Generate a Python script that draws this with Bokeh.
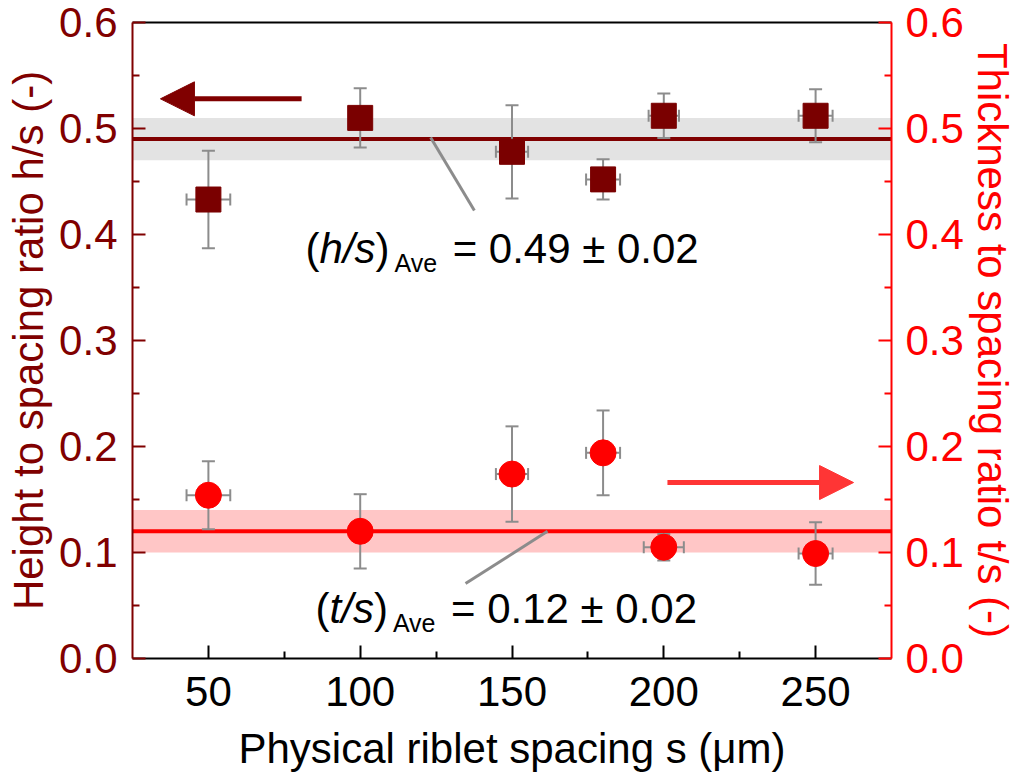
import math
from bokeh.plotting import figure
from bokeh.models import (Range1d, LinearAxis, FixedTicker, PrintfTickFormatter, Whisker,
                          TeeHead, ColumnDataSource, BoxAnnotation, Span, Arrow, NormalHead, Label)
from bokeh.embed import file_html
from bokeh.resources import INLINE

# ---------------- data ----------------
spacing = [50, 100, 150, 180, 200, 250]
hs = [0.433, 0.510, 0.478, 0.452, 0.512, 0.512]
hs_err = [0.046, 0.028, 0.044, 0.019, 0.021, 0.025]
hs_xerr = [7.2, 3.0, 5.3, 5.6, 5.0, 5.6]
ts = [0.154, 0.120, 0.174, 0.194, 0.105, 0.099]
ts_err = [0.032, 0.035, 0.045, 0.040, 0.0125, 0.0295]
ts_xerr = [7.2, 3.0, 5.3, 5.6, 6.6, 5.6]
hs_ave, hs_ave_err = 0.49, 0.02
ts_ave, ts_ave_err = 0.12, 0.02
x_ticks = [50, 100, 150, 200, 250]
x_minor = [75, 125, 175, 225]
y_ticks = [0.0, 0.1, 0.2, 0.3, 0.4, 0.5, 0.6]
y_minor = [0.05, 0.15, 0.25, 0.35, 0.45, 0.55]
x_title = "Physical riblet spacing s (\u03bcm)"
yl_title = "Height to spacing ratio h/s (-)"
yr_title = "Thickness to spacing ratio t/s (-)"

DARK = "#800000"
RED = "#ff0000"
GRAY = "#8c8c8c"
FONT = "Liberation Sans"

p = figure(width=1020, height=778, x_range=Range1d(25, 275), y_range=Range1d(0, 0.6),
           output_backend="svg", toolbar_location=None,
           min_border_left=132, min_border_right=129, min_border_top=22, min_border_bottom=120)
p.extra_y_ranges = {"r": Range1d(0, 0.6)}
p.xgrid.visible = False
p.ygrid.visible = False
p.outline_line_color = None
p.background_fill_color = "white"
p.border_fill_color = "white"

def style_axis(ax, color, ticks, minor, standoff, title, title_size, title_standoff):
    ax.ticker = FixedTicker(ticks=ticks, minor_ticks=minor)
    ax.axis_line_color = color
    ax.axis_line_width = 2
    ax.major_tick_line_color = color
    ax.minor_tick_line_color = color
    ax.major_tick_line_width = 2
    ax.minor_tick_line_width = 2
    ax.major_tick_in = 13
    ax.major_tick_out = 0
    ax.minor_tick_in = 7
    ax.minor_tick_out = 0
    ax.major_label_text_color = color
    ax.major_label_text_font = FONT
    ax.major_label_text_font_size = "42px"
    ax.major_label_standoff = standoff
    ax.axis_label = title
    ax.axis_label_text_color = color
    ax.axis_label_text_font = FONT
    ax.axis_label_text_font_size = f"{title_size}px"
    ax.axis_label_text_font_style = "normal"
    ax.axis_label_standoff = title_standoff

style_axis(p.xaxis[0], "black", x_ticks, x_minor, 18, x_title, 42, 16)
style_axis(p.yaxis[0], DARK, y_ticks, y_minor, 15, yl_title, 42, 4)
p.yaxis[0].formatter = PrintfTickFormatter(format="%.1f")

rax = LinearAxis(y_range_name="r")
style_axis(rax, RED, y_ticks, y_minor, 14, yr_title, 42, 2)
rax.formatter = PrintfTickFormatter(format="%.1f")
p.add_layout(rax, "right")

tax = LinearAxis(ticker=FixedTicker(ticks=[]), axis_line_color="black", axis_line_width=2,
                 major_label_text_font_size="0px", major_tick_line_color=None,
                 minor_tick_line_color=None)
p.add_layout(tax, "above")

# ---------------- bands and average lines ----------------
p.add_layout(BoxAnnotation(bottom=hs_ave - hs_ave_err, top=hs_ave + hs_ave_err,
                           fill_color="#e3e3e3", fill_alpha=1, line_color=None, level="underlay"))
p.add_layout(BoxAnnotation(bottom=ts_ave - ts_ave_err, top=ts_ave + ts_ave_err,
                           fill_color="#ffc6c6", fill_alpha=1, line_color=None, level="underlay",
                           y_range_name="r"))
p.add_layout(Span(location=hs_ave, dimension="width", line_color=DARK, line_width=4, level="underlay"))
p.add_layout(Span(location=ts_ave, dimension="width", line_color=RED, line_width=4, level="underlay",
                  y_range_name="r"))

# ---------------- error bars ----------------
def add_errors(y, ye, xe, yname):
    src = ColumnDataSource(dict(
        x=spacing, y=y,
        lo=[a - b for a, b in zip(y, ye)], hi=[a + b for a, b in zip(y, ye)],
        xl=[a - b for a, b in zip(spacing, xe)], xh=[a + b for a, b in zip(spacing, xe)]))
    def head(sz):
        return TeeHead(size=sz, line_color=GRAY, line_width=2)
    p.add_layout(Whisker(base="x", lower="lo", upper="hi", source=src, dimension="height",
                         line_color=GRAY, line_width=2, upper_head=head(13), lower_head=head(13),
                         level="underlay", y_range_name=yname))
    p.add_layout(Whisker(base="y", lower="xl", upper="xh", source=src, dimension="width",
                         line_color=GRAY, line_width=2, upper_head=head(12), lower_head=head(12),
                         level="underlay", y_range_name=yname))

add_errors(hs, hs_err, hs_xerr, "default")
add_errors(ts, ts_err, ts_xerr, "r")

p.scatter(spacing, hs, marker="square", size=25, fill_color="#7a0000", line_color="#7a0000")
p.scatter(spacing, ts, marker="circle", size=26, fill_color=RED, line_color=RED, y_range_name="r")

# ---------------- leader lines and arrows ----------------
p.segment(x0=[123.2], y0=[0.4915], x1=[137.6], y1=[0.4226], line_color=GRAY, line_width=3)
p.segment(x0=[161.7], y0=[0.1200], x1=[134.7], y1=[0.0708], line_color=GRAY, line_width=3,
          y_range_name="r")

p.add_layout(Arrow(end=NormalHead(size=34, fill_color=DARK, line_color=DARK),
                   x_start=80.7, y_start=0.528, x_end=34.2, y_end=0.528,
                   line_color=DARK, line_width=5))
p.add_layout(Arrow(end=NormalHead(size=34, fill_color="#ff3535", line_color="#ff3535"),
                   x_start=201.2, y_start=0.166, x_end=262.5, y_end=0.166,
                   line_color="#ff3535", line_width=5, y_range_name="r"))

# ---------------- rich text helper (annotations inside the frame) ----------------
W = {' ': 278, '(': 333, ')': 333, '-': 333, '/': 278, '.': 278, '=': 584, '\u00b1': 584,
     'A': 667, 'e': 556, 'h': 556, 's': 500, 't': 278, 'v': 500}

def tw(s, size):
    return sum(W.get(c, 556) for c in s) * size / 1000.0

def rich(x, y, parts, color="black", yname="default"):
    pos = 0.0
    for text, size, italic, dy, gap in parts:
        pos += gap
        p.add_layout(Label(x=x, y=y, text=text, x_offset=pos, y_offset=dy,
                           text_font=FONT, text_font_size=f"{size}px",
                           text_font_style="italic" if italic else "normal",
                           text_color=color, text_align="left", text_baseline="alphabetic",
                           y_range_name=yname))
        pos += tw(text, size)

def ave_parts(var, val):
    return [("(", 42, False, 0, 0), (var, 42, True, 0, 0), (")", 42, False, 0, 0),
            ("Ave", 25, False, -15, 5), ("= " + val, 42, False, 0, 15)]

rich(82.0, 0.3868, ave_parts("h/s", "0.49 \u00b1 0.02"))
rich(85.3, 0.0472, ave_parts("t/s", "0.12 \u00b1 0.02"), yname="r")

open("out.html", "w").write(file_html(p, INLINE, title="riblet spacing ratios"))
